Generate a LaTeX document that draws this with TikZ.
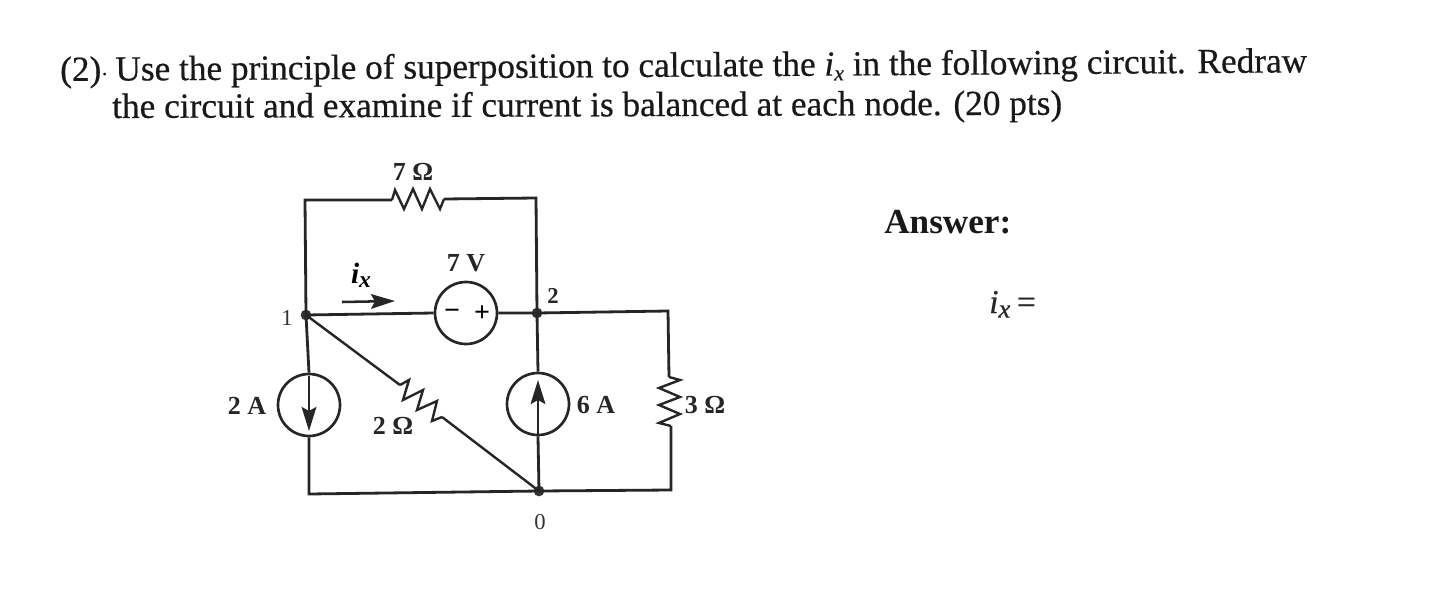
\documentclass[tikz,border=0pt]{standalone}
\usepackage{fontspec}
\setmainfont{Liberation Serif}
\newfontfamily\scanfont[FakeBold=0.5]{Liberation Serif}
\usetikzlibrary{arrows.meta}
\newcommand{\ix}{\textit{i}\raisebox{-0.3ex}{\scalebox{0.8}{\textit{x}}}}
\newcommand{\ixs}{\textit{i}\raisebox{-0.3ex}{\scalebox{0.62}{\textit{x}}}}
\tikzset{
  x=0.75pt,y=-0.75pt,
  wire/.style={line width=2.1pt,black!85,line join=miter},
  zig/.style={line width=1.8pt,black!85,line join=miter},
  src/.style={circle,draw=black!85,line width=2pt,minimum size=46.5pt,inner sep=0pt,fill=white},
  dotn/.style={circle,fill=black!80,minimum size=8pt,inner sep=0pt},
  lab/.style={font=\fontsize{19.5}{22}\selectfont\bfseries,inner sep=0pt,text=black!85},
  digit/.style={font=\fontsize{17}{20}\selectfont,inner sep=0pt,text=black!80},
  prose/.style={font=\fontsize{26.45}{30}\selectfont\scanfont,inner sep=0pt,anchor=base west,text=black!90},
  flow/.style={line width=1.9pt,black!85,-{Stealth[length=18pt,width=11pt,inset=3pt]}}
}
\begin{document}
\begin{tikzpicture}
\useasboundingbox (0,0) rectangle (1436,600);
\fill[white] (0,0) rectangle (1436,600);
% junctions and corners
\coordinate (tl) at (305,200);
\coordinate (tr) at (536,198);
\coordinate (bl) at (309,494);
\coordinate (tro) at (668,311);
\coordinate (bro) at (671,490);
\coordinate (r7a) at (392,200);
\coordinate (r7b) at (444,199);
\coordinate (r2a) at (400,385);
\coordinate (r2b) at (442,417);
\coordinate (r3a) at (669,377);
\coordinate (r3b) at (671,426);
\coordinate (fa) at (342,302);
\coordinate (fb) at (395,301);
\node[src] (vs) at (466,313) {};
\node[src] (i2) at (309,405) {};
\node[src] (i6) at (538,404) {};
\node[dotn] (n1) at (306,315) {};
\node[dotn] (n2) at (537,313) {};
\node[dotn] (n0) at (539,491) {};
% wires
\draw[wire] (n1.center) -- (tl) -- (r7a);
\draw[wire] (r7b) -- (tr) -- (n2.center);
\draw[wire] (n1.center) -- (vs.west);
\draw[wire] (vs.east) -- (n2.center) -- (tro) -- (r3a);
\draw[wire] (r3b) -- (bro) -- (n0.center) -- (bl) -- (i2.south);
\draw[wire] (n1.center) -- (i2.north);
\draw[wire] (n2.center) -- (i6.north);
\draw[wire] (i6.south) -- (n0.center);
\draw[wire,line width=1.8pt] (n1.center) -- (r2a);
\draw[wire,line width=1.8pt] (r2b) -- (n0.center);
% resistors
\draw[zig] (r7a) -- (395,190) -- (404,209) -- (413,189) -- (422,209) -- (430,189) -- (440,209) -- (r7b);
\draw[zig] (r2a) -- (409,380) -- (403,400) -- (423,390) -- (417,410) -- (437,401) -- (432,421) -- (r2b);
\draw[zig] (r3a) -- (680,380) -- (659,388) -- (680,397) -- (659,405) -- (680,414) -- (659,423) -- (r3b);
% source arrows
\draw[flow] (309,376) coordinate (ia) -- (309,431) coordinate (ib);
\draw[flow] (538,434) coordinate (ja) -- (538,380) coordinate (jb);
\draw[flow] (fa) -- (fb);
% polarity in V source
\node[font=\fontsize{21}{22}\selectfont\bfseries,inner sep=0pt] (vm) at (452,314) {\textminus};
\node[font=\fontsize{21}{22}\selectfont\bfseries,inner sep=0pt] (vp) at (482,314) {+};
% labels
\node[lab] (l7o) at (413,172) {7 Ω};
\node[lab] (l7v) at (466,263) {7 V};
\node[lab] (l2a) at (247,406) {2 A};
\node[lab] (l2o) at (393,426) {2 Ω};
\node[lab] (l6a) at (596,405) {6 A};
\node[lab] (l3o) at (705,405) {3 Ω};
\node[digit] (d1) at (287,318) {1};
\node[lab,font=\fontsize{17}{20}\selectfont\bfseries] (d2) at (553,296) {2};
\node[digit] (d0) at (540,522) {0};
\node[inner sep=0pt,font=\fontsize{22}{24}\selectfont\bfseries] (ixa) at (361,275) {\ix};
% prose
\node[prose,rotate=0.4] (t1) at (60,81) {(2)\kern0.5pt\raisebox{0.35ex}{\scalebox{0.6}{.}}\kern-0.5pt{} Use the principle of superposition to calculate the \ixs{} in the following circuit. Redraw};
\node[prose,rotate=0.2] (t2) at (112,118) {the circuit and examine if current is balanced at each node. (20 pts)};
\node[inner sep=0pt,anchor=base west,font=\fontsize{26.4}{30}\selectfont\bfseries,text=black!90] (ans) at (884,233) {Answer:};
\node[inner sep=0pt,anchor=base west,font=\fontsize{25}{28}\selectfont\scanfont,text=black!85] (ixe) at (989,313) {\ix{}\kern5pt\relax =};
\end{tikzpicture}
\end{document}
